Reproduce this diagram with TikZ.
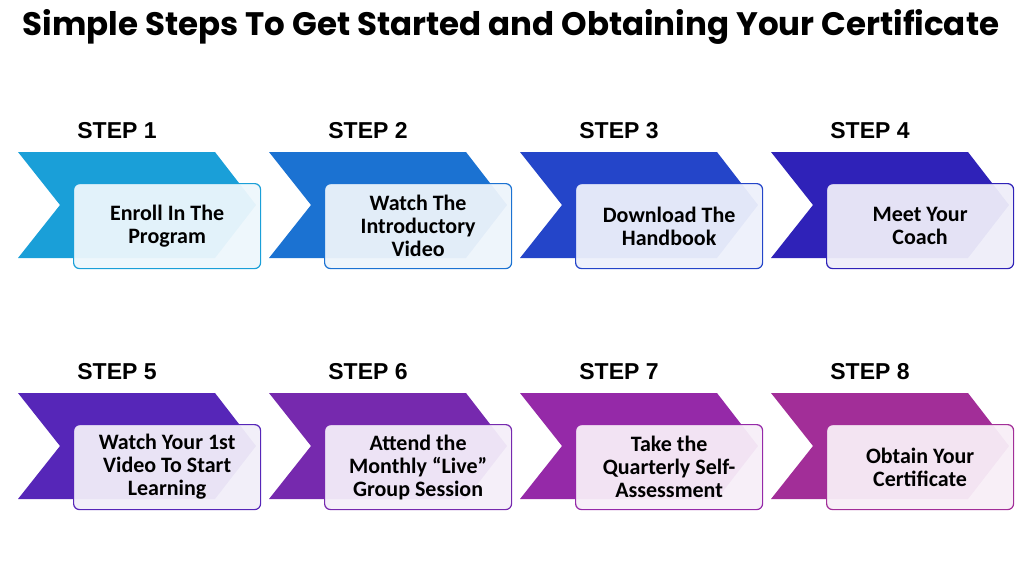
\documentclass[tikz,border=0pt]{standalone}
\usepackage{fontspec}
\setmainfont{Liberation Sans}
\newfontfamily\titlef{Poppins}
\newfontfamily\cardf{Carlito}
\begin{document}
\begin{tikzpicture}[x=1pt,y=-1pt,
  lbl/.style={font=\fontsize{23}{26}\selectfont\bfseries,anchor=center},
  card/.style={draw=#1,line width=1.2pt,fill=#1!8,fill opacity=0.95,rounded corners=6pt,minimum width=187pt,minimum height=85pt,anchor=north west,text opacity=1,align=center,font=\cardf\fontsize{22}{23}\selectfont\bfseries,inner sep=2pt}]
\useasboundingbox (0,0) rectangle (1024,576);
\definecolor{c1}{HTML}{1A9FD8}\definecolor{c2}{HTML}{1B72D2}
\definecolor{c3}{HTML}{2445C9}\definecolor{c4}{HTML}{2F22B8}
\definecolor{c5}{HTML}{5626B8}\definecolor{c6}{HTML}{7629AE}
\definecolor{c7}{HTML}{9529A8}\definecolor{c8}{HTML}{A22E98}
\node[font=\titlef\fontsize{32.5}{34}\selectfont\bfseries] (title) at (511,27) {Simple Steps To Get Started and Obtaining Your Certificate};
\foreach \i/\col/\row/\txt in {1/0/0/{Enroll In The\\Program},2/1/0/{Watch The\\Introductory\\Video},3/2/0/{Download The\\Handbook},4/3/0/{Meet Your\\Coach},5/0/1/{Watch Your 1st\\Video To Start\\Learning},6/1/1/{Attend the\\Monthly “Live”\\Group Session},7/2/1/{Take the\\Quarterly Self-\\Assessment},8/3/1/{Obtain Your\\Certificate}}{
  \pgfmathsetmacro\X{18+251*\col}
  \pgfmathsetmacro\Y{152+241*\row}
  \begin{scope}[shift={(\X,\Y)}]
    \fill[c\i] (0,0) -- (197,0) -- (238,53) -- (197,106) -- (0,106) -- (42,53) -- cycle;
    \node[lbl] (s\i) at (99,-21) {STEP \i};
    \node[card=c\i] (k\i) at (55,31) {\txt};
  \end{scope}
}
\end{tikzpicture}
\end{document}
